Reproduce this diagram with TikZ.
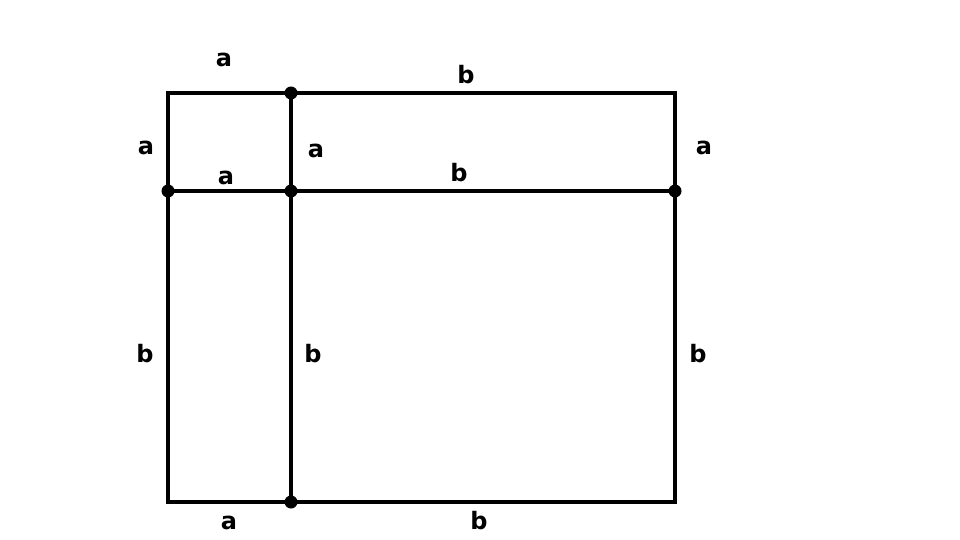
\documentclass[tikz,border=0pt]{standalone}
\usepackage{fontspec}
\setmainfont{DejaVu Sans}
\usepackage{tikz}
\usetikzlibrary{positioning}

\begin{document}
\begin{tikzpicture}[
  x=1pt, y=-1pt,
  edge/.style={line width=4pt, black},
  joint/.style={circle, fill=black, inner sep=0pt, minimum size=13pt},
  side/.style={font=\fontsize{24}{28}\selectfont\bfseries, inner sep=0pt}
]
\useasboundingbox (0,0) rectangle (960,540);

% Corners of the big square
\coordinate (TL) at (168,93);
\coordinate (TR) at (675,93);
\coordinate (BL) at (168,502);
\coordinate (BR) at (675,502);

% Points where the cut lines meet the sides
\node[joint] (T) at (291,93) {};
\node[joint] (L) at (168,191) {};
\node[joint] (M) at (291,191) {};
\node[joint] (R) at (675,191) {};
\node[joint] (B) at (291,502) {};

% Outline and the two cuts
\draw[edge, line join=miter] (TL) -- (TR) -- (BR) -- (BL) -- cycle;
\draw[edge] (T.center) -- (B.center);
\draw[edge] (L.center) -- (R.center);

% Side lengths
\node[side] (a1) at (224,60) {a};
\node[side] (b1) at (466,75) {b};
\node[side] (a2) at (146,148) {a};
\node[side] (a3) at (316,151) {a};
\node[side] (a4) at (704,148) {a};
\node[side] (a5) at (226,178) {a};
\node[side] (b2) at (459,173) {b};
\node[side] (b3) at (145,354) {b};
\node[side] (b4) at (313,354) {b};
\node[side] (b5) at (698,354) {b};
\node[side] (a6) at (229,523) {a};
\node[side] (b6) at (479,521) {b};

\end{tikzpicture}
\end{document}
